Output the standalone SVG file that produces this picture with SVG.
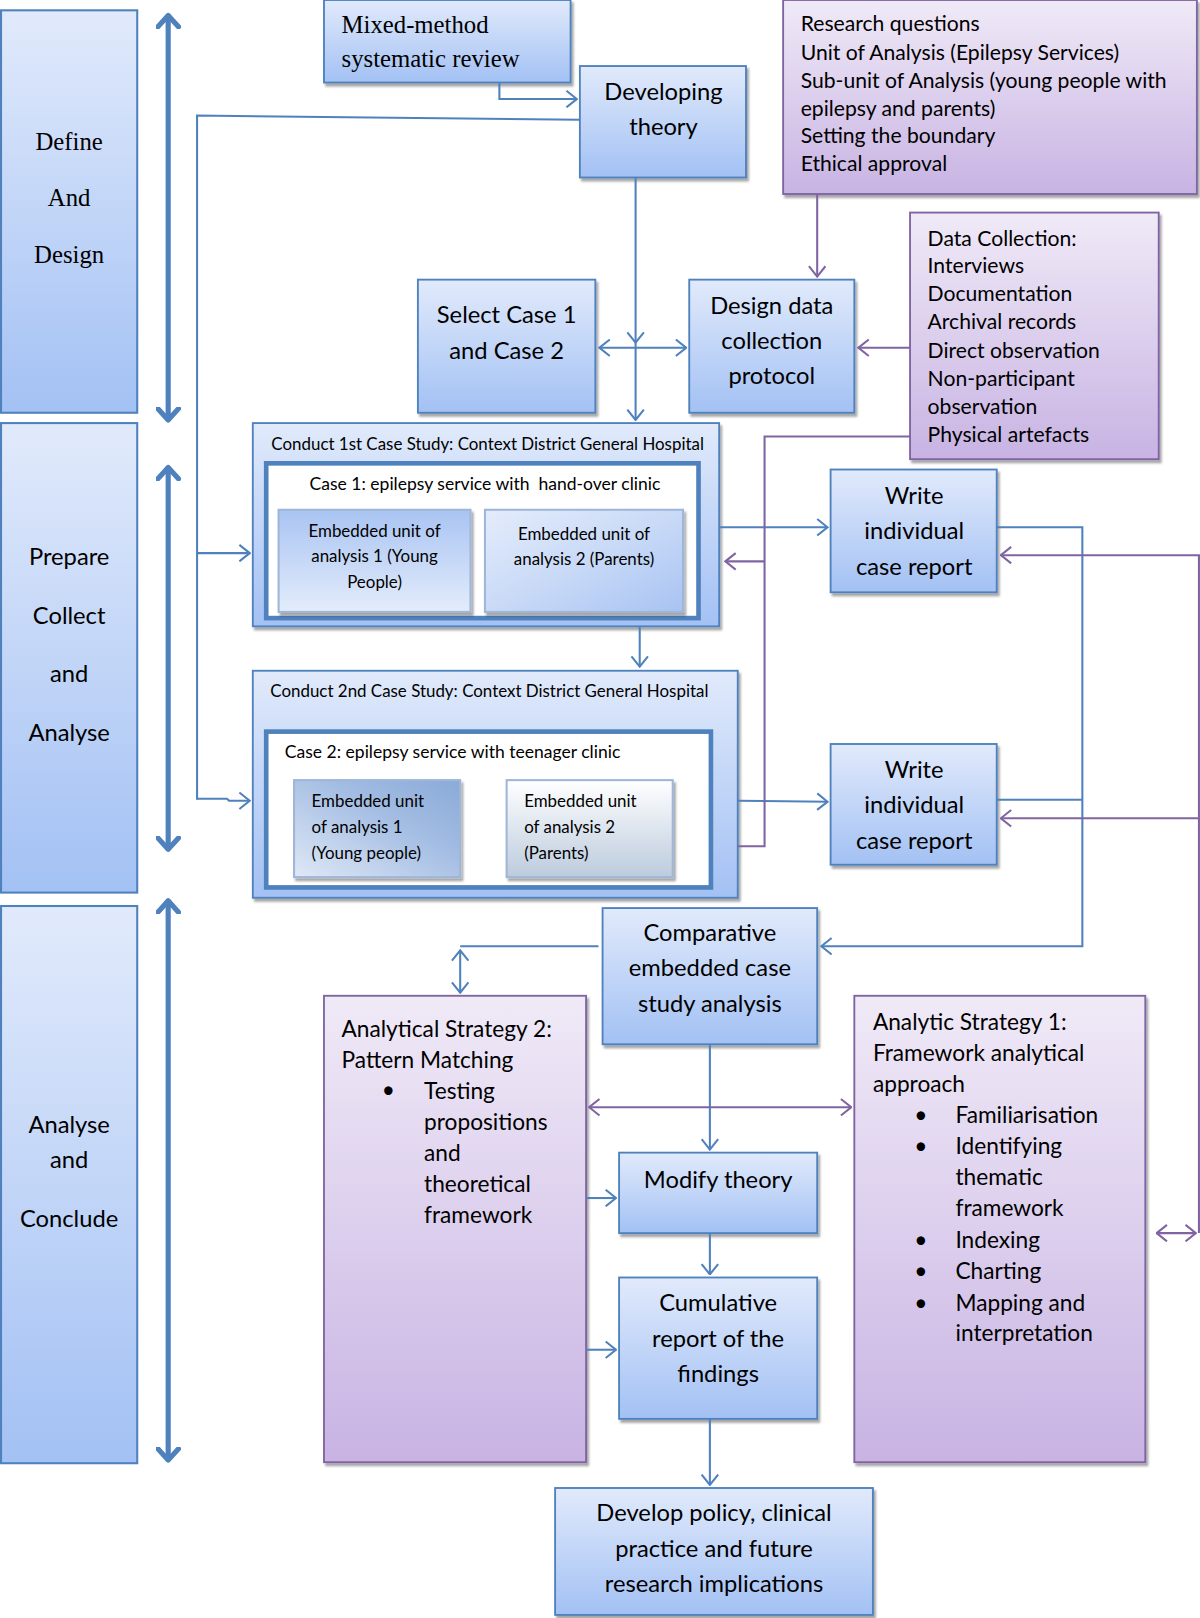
<svg xmlns="http://www.w3.org/2000/svg" width="1200" height="1618" viewBox="0 0 1200 1618">
<defs>
<linearGradient id="gb" x1="0" y1="0" x2="0" y2="1"><stop offset="0" stop-color="#e1eafb"/><stop offset="1" stop-color="#a3c1f4"/></linearGradient>
<linearGradient id="gp" x1="0" y1="0" x2="0" y2="1"><stop offset="0" stop-color="#f0eaf7"/><stop offset="1" stop-color="#c8b3e3"/></linearGradient>
<linearGradient id="ge1" x1="0" y1="0" x2="0" y2="1"><stop offset="0" stop-color="#a9c4f2"/><stop offset="1" stop-color="#e3ecfb"/></linearGradient>
<linearGradient id="ge2" x1="0" y1="0" x2="1" y2="1"><stop offset="0" stop-color="#e4ecfb"/><stop offset="0.5" stop-color="#c9daf7"/><stop offset="1" stop-color="#a8c3f2"/></linearGradient>
<linearGradient id="ge3" x1="0" y1="1" x2="1" y2="0"><stop offset="0" stop-color="#dfe8f6"/><stop offset="0.6" stop-color="#a3bde3"/><stop offset="1" stop-color="#8aaad8"/></linearGradient>
<linearGradient id="ge4" x1="0" y1="0" x2="0" y2="1"><stop offset="0" stop-color="#ffffff"/><stop offset="1" stop-color="#bccbdd"/></linearGradient>
<filter id="sh" x="-5%" y="-5%" width="115%" height="115%"><feDropShadow dx="2" dy="3" stdDeviation="1.2" flood-color="#000" flood-opacity="0.35"/></filter>
<marker id="ab" viewBox="0 0 12 18" refX="11" refY="9" markerWidth="12" markerHeight="18" markerUnits="userSpaceOnUse" orient="auto-start-reverse"><path d="M1,1 L11,9 L1,17" fill="none" stroke="#4f81bd" stroke-width="2"/></marker>
<marker id="ap" viewBox="0 0 12 18" refX="11" refY="9" markerWidth="12" markerHeight="18" markerUnits="userSpaceOnUse" orient="auto-start-reverse"><path d="M1,1 L11,9 L1,17" fill="none" stroke="#8064a2" stroke-width="2"/></marker>
<marker id="at" viewBox="0 0 16 24" refX="14" refY="12" markerWidth="16" markerHeight="24" markerUnits="userSpaceOnUse" orient="auto-start-reverse"><path d="M2,2 L13,12 L2,22" fill="none" stroke="#4f81bd" stroke-width="5" stroke-linecap="round" stroke-linejoin="round"/></marker>
<style>
.bx{fill:url(#gb);stroke:#4f81bd;stroke-width:1.8;filter:url(#sh)}
.px{fill:url(#gp);stroke:#8064a2;stroke-width:1.8;filter:url(#sh)}
.ph{fill:url(#gb);stroke:#4f81bd;stroke-width:2}
.inner{fill:#ffffff;stroke:#4f81bd;stroke-width:4.5}
.emb{stroke:#9fb6d9;stroke-width:2;filter:url(#sh)}
.t{font-family:Lato,"Liberation Sans",sans-serif;fill:#000}
.s{font-family:"Liberation Serif",serif;fill:#000}
.c{text-anchor:middle}
.f23{font-size:23px}
.f20{font-size:20.5px}
.f22{font-size:22px}
.f16{font-size:16.4px}
.cb{fill:none;stroke:#4f81bd;stroke-width:2}
.cp{fill:none;stroke:#8064a2;stroke-width:2}
.thick{fill:none;stroke:#4f81bd;stroke-width:5}
</style>
</defs>
<g transform="scale(1.0318,1.0319)">

<g id="phase-define">
<rect class="ph" x="1" y="10" width="132" height="390"/>
<text class="s c" font-size="24" x="67" y="145">Define</text>
<text class="s c" font-size="24" x="67" y="200">And</text>
<text class="s c" font-size="24" x="67" y="255">Design</text>
</g>
<g id="phase-prepare">
<rect class="ph" x="1" y="410" width="132" height="455"/>
<text class="t c f23" x="67" y="548">Prepare</text>
<text class="t c f23" x="67" y="605">Collect</text>
<text class="t c f23" x="67" y="661">and</text>
<text class="t c f23" x="67" y="718">Analyse</text>
</g>
<g id="phase-conclude">
<rect class="ph" x="1" y="878" width="132" height="540"/>
<text class="t c f23" x="67" y="1098">Analyse</text>
<text class="t c f23" x="67" y="1132">and</text>
<text class="t c f23" x="67" y="1189">Conclude</text>
</g>

<g id="mixed-method">
<rect class="bx" x="314" y="0" width="239" height="80"/>
<text class="s" font-size="24" x="331" y="32">Mixed-method</text>
<text class="s" font-size="24" x="331" y="65">systematic review</text>
</g>
<g id="developing-theory">
<rect class="bx" x="562" y="64" width="161" height="108"/>
<text class="t c f23" x="643" y="97">Developing</text>
<text class="t c f23" x="643" y="131">theory</text>
</g>
<g id="research-questions">
<rect class="px" x="759" y="0" width="401" height="188"/>
<text class="t f20" x="776" y="30">Research questions</text>
<text class="t f20" x="776" y="58">Unit of Analysis (Epilepsy Services)</text>
<text class="t f20" x="776" y="85">Sub-unit of Analysis (young people with</text>
<text class="t f20" x="776" y="112">epilepsy and parents)</text>
<text class="t f20" x="776" y="139">Setting the boundary</text>
<text class="t f20" x="776" y="166">Ethical approval</text>
</g>
<g id="data-collection">
<rect class="px" x="882" y="206" width="241" height="239"/>
<text class="t f20" x="899" y="238">Data Collection:</text>
<text class="t f20" x="899" y="265">Interviews</text>
<text class="t f20" x="899" y="292">Documentation</text>
<text class="t f20" x="899" y="319">Archival records</text>
<text class="t f20" x="899" y="347">Direct observation</text>
<text class="t f20" x="899" y="374">Non-participant</text>
<text class="t f20" x="899" y="401">observation</text>
<text class="t f20" x="899" y="428">Physical artefacts</text>
</g>
<g id="select-case">
<rect class="bx" x="405" y="271" width="172" height="129"/>
<text class="t c f23" x="491" y="313">Select Case 1</text>
<text class="t c f23" x="491" y="348">and Case 2</text>
</g>
<g id="design-protocol">
<rect class="bx" x="668" y="271" width="160" height="129"/>
<text class="t c f23" x="748" y="304">Design data</text>
<text class="t c f23" x="748" y="338">collection</text>
<text class="t c f23" x="748" y="372">protocol</text>
</g>

<g id="case-study-1">
<rect class="bx" x="245" y="410" width="452" height="197"/>
<text class="t f16" x="263" y="436">Conduct 1st Case Study: Context District General Hospital</text>
<rect class="inner" x="258" y="449" width="419" height="150"/>
<text class="t" font-size="17" x="300" y="475">Case 1: epilepsy service with &#160;hand-over clinic</text>
<rect class="emb" fill="url(#ge1)" x="270" y="494" width="186" height="99"/>
<text class="t c f16" x="363" y="520">Embedded unit of</text>
<text class="t c f16" x="363" y="545">analysis 1 (Young</text>
<text class="t c f16" x="363" y="570">People)</text>
<rect class="emb" fill="url(#ge2)" x="470" y="494" width="192" height="99"/>
<text class="t c f16" x="566" y="523">Embedded unit of</text>
<text class="t c f16" x="566" y="548">analysis 2 (Parents)</text>
</g>

<g id="case-study-2">
<rect class="bx" x="245" y="650" width="470" height="220"/>
<text class="t f16" x="262" y="675">Conduct 2nd Case Study: Context District General Hospital</text>
<rect class="inner" x="258" y="709" width="431" height="151"/>
<text class="t" font-size="17" x="276" y="735">Case 2: epilepsy service with teenager clinic</text>
<rect class="emb" fill="url(#ge3)" x="285" y="756" width="161" height="94"/>
<text class="t f16" x="302" y="782">Embedded unit</text>
<text class="t f16" x="302" y="807">of analysis 1</text>
<text class="t f16" x="302" y="832">(Young people)</text>
<rect class="emb" fill="url(#ge4)" x="491" y="756" width="161" height="94"/>
<text class="t f16" x="508" y="782">Embedded unit</text>
<text class="t f16" x="508" y="807">of analysis 2</text>
<text class="t f16" x="508" y="832">(Parents)</text>
</g>

<g id="write-report-1">
<rect class="bx" x="805" y="455" width="161" height="119"/>
<text class="t c f23" x="886" y="488">Write</text>
<text class="t c f23" x="886" y="522">individual</text>
<text class="t c f23" x="886" y="557">case report</text>
</g>
<g id="write-report-2">
<rect class="bx" x="805" y="721" width="161" height="117"/>
<text class="t c f23" x="886" y="754">Write</text>
<text class="t c f23" x="886" y="788">individual</text>
<text class="t c f23" x="886" y="823">case report</text>
</g>

<g id="comparative-analysis">
<rect class="bx" x="584" y="880" width="208" height="132"/>
<text class="t c f23" x="688" y="912">Comparative</text>
<text class="t c f23" x="688" y="946">embedded case</text>
<text class="t c f23" x="688" y="981">study analysis</text>
</g>

<g id="analytical-strategy-2">
<rect class="px" x="314" y="965" width="254" height="452"/>
<text class="t f22" x="331" y="1005">Analytical Strategy 2:</text>
<text class="t f22" x="331" y="1035">Pattern Matching</text>
<text class="t f22" x="370" y="1064">•</text>
<text class="t f22" x="411" y="1065">Testing</text>
<text class="t f22" x="411" y="1095">propositions</text>
<text class="t f22" x="411" y="1125">and</text>
<text class="t f22" x="411" y="1155">theoretical</text>
<text class="t f22" x="411" y="1185">framework</text>
</g>

<g id="analytic-strategy-1">
<rect class="px" x="828" y="965" width="282" height="452"/>
<text class="t f22" x="846" y="998">Analytic Strategy 1:</text>
<text class="t f22" x="846" y="1028">Framework analytical</text>
<text class="t f22" x="846" y="1058">approach</text>
<text class="t f22" x="886" y="1088">•</text>
<text class="t f22" x="926" y="1088">Familiarisation</text>
<text class="t f22" x="886" y="1118">•</text>
<text class="t f22" x="926" y="1118">Identifying</text>
<text class="t f22" x="926" y="1148">thematic</text>
<text class="t f22" x="926" y="1178">framework</text>
<text class="t f22" x="886" y="1209">•</text>
<text class="t f22" x="926" y="1209">Indexing</text>
<text class="t f22" x="886" y="1239">•</text>
<text class="t f22" x="926" y="1239">Charting</text>
<text class="t f22" x="886" y="1270">•</text>
<text class="t f22" x="926" y="1270">Mapping and</text>
<text class="t f22" x="926" y="1300">interpretation</text>
</g>

<g id="modify-theory">
<rect class="bx" x="600" y="1117" width="192" height="78"/>
<text class="t c f23" x="696" y="1151">Modify theory</text>
</g>
<g id="cumulative-report">
<rect class="bx" x="600" y="1238" width="192" height="137"/>
<text class="t c f23" x="696" y="1270">Cumulative</text>
<text class="t c f23" x="696" y="1305">report of the</text>
<text class="t c f23" x="696" y="1339">findings</text>
</g>
<g id="develop-policy">
<rect class="bx" x="538" y="1442" width="308" height="123"/>
<text class="t c f23" x="692" y="1474">Develop policy, clinical</text>
<text class="t c f23" x="692" y="1509">practice and future</text>
<text class="t c f23" x="692" y="1543">research implications</text>
</g>

<g id="connectors">
<line class="thick" x1="163" y1="14" x2="163" y2="408" marker-start="url(#at)" marker-end="url(#at)"/>
<line class="thick" x1="163" y1="452" x2="163" y2="824" marker-start="url(#at)" marker-end="url(#at)"/>
<line class="thick" x1="163" y1="872" x2="163" y2="1416" marker-start="url(#at)" marker-end="url(#at)"/>

<polyline class="cb" points="484,80 484,96 559,96" marker-end="url(#ab)"/>
<polyline class="cb" points="562,116 191,112 191,775"/>
<line class="cb" x1="191" y1="536" x2="242" y2="536" marker-end="url(#ab)"/>
<polyline class="cb" points="191,774 220,774 222,776 242,776" marker-end="url(#ab)"/>
<line class="cb" x1="616" y1="172" x2="616" y2="332" marker-end="url(#ab)"/>
<line class="cb" x1="616" y1="332" x2="616" y2="407" marker-end="url(#ab)"/>
<line class="cb" x1="581" y1="337" x2="665" y2="337" marker-start="url(#ab)" marker-end="url(#ab)"/>
<line class="cb" x1="697" y1="511" x2="802" y2="511" marker-end="url(#ab)"/>
<line class="cb" x1="620" y1="607" x2="620" y2="646" marker-end="url(#ab)"/>
<line class="cb" x1="715" y1="776" x2="802" y2="777" marker-end="url(#ab)"/>
<polyline class="cb" points="966,511 1049,511 1049,917 796,917" marker-end="url(#ab)"/>
<line class="cb" x1="966" y1="775" x2="1049" y2="775"/>
<polyline class="cb" points="580,917 446,917"/>
<line class="cb" x1="446" y1="921" x2="446" y2="962" marker-start="url(#ab)" marker-end="url(#ab)"/>
<line class="cb" x1="688" y1="1012" x2="688" y2="1114" marker-end="url(#ab)"/>
<line class="cb" x1="688" y1="1195" x2="688" y2="1235" marker-end="url(#ab)"/>
<line class="cb" x1="568" y1="1161" x2="597" y2="1161" marker-end="url(#ab)"/>
<line class="cb" x1="568" y1="1308" x2="597" y2="1308" marker-end="url(#ab)"/>
<line class="cb" x1="688" y1="1375" x2="688" y2="1439" marker-end="url(#ab)"/>

<line class="cp" x1="792" y1="188" x2="792" y2="268" marker-end="url(#ap)"/>
<line class="cp" x1="882" y1="337" x2="832" y2="337" marker-end="url(#ap)"/>
<polyline class="cp" points="882,423 741,423 741,820 715,820"/>
<line class="cp" x1="741" y1="544" x2="703" y2="544" marker-end="url(#ap)"/>
<polyline class="cp" points="1162,1195 1162,538 970,538" marker-end="url(#ap)"/>
<line class="cp" x1="1162" y1="793" x2="970" y2="793" marker-end="url(#ap)"/>
<line class="cp" x1="1121" y1="1195" x2="1159" y2="1195" marker-start="url(#ap)" marker-end="url(#ap)"/>
<line class="cp" x1="571" y1="1073" x2="825" y2="1073" marker-start="url(#ap)" marker-end="url(#ap)"/>
</g>
</g>
</svg>
